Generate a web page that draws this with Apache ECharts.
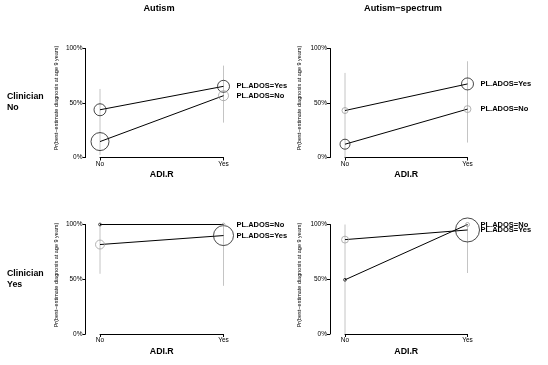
<!DOCTYPE html>
<html>
<head>
<meta charset="utf-8">
<script src="https://cdn.jsdelivr.net/npm/echarts@6/dist/echarts.min.js"></script>
<style>
html,body{margin:0;padding:0;background:#fff;}
#c{width:548px;height:365px;}
</style>
</head>
<body>
<div id="c"></div>
<script>
// ---------- data ----------
const categories = ['No', 'Yes'];            // ADI.R
const colTitles = ['Autism', 'Autism\u2212spectrum'];
const rowTitles = ['Clinician\nNo', 'Clinician\nYes'];
const yTitle = 'Pr(best\u2212estimate diagnosis at age 9 years)';
const yTicks = [0, 50, 100];

// probability (%) of diagnosis at ADI.R = No / Yes
const autismClinNo_adosYes = [43.8, 65.3];
const autismClinNo_adosNo = [14.6, 56.7];
const spectrumClinNo_adosYes = [43.1, 67.5];
const spectrumClinNo_adosNo = [12.2, 44.4];
const autismClinYes_adosYes = [81.7, 89.9];
const autismClinYes_adosNo = [100, 100];
const spectrumClinYes_adosYes = [86.2, 95.0];
const spectrumClinYes_adosNo = [49.5, 100];

// relative group sizes (circle area)
const autismClinNo_adosYes_n = [36, 36];
const autismClinNo_adosNo_n = [81, 25];
const spectrumClinNo_adosYes_n = [9, 36];
const spectrumClinNo_adosNo_n = [25, 12];
const autismClinYes_adosYes_n = [20, 100];
const autismClinYes_adosNo_n = [2, 2];
const spectrumClinYes_adosYes_n = [12, 144];
const spectrumClinYes_adosNo_n = [2, 4];

// dark (1) / light (0) circle
const autismClinNo_adosYes_dark = [1, 1];
const autismClinNo_adosNo_dark = [1, 0];
const spectrumClinNo_adosYes_dark = [0, 1];
const spectrumClinNo_adosNo_dark = [1, 0];
const autismClinYes_adosYes_dark = [0, 1];
const autismClinYes_adosNo_dark = [1, 0];
const spectrumClinYes_adosYes_dark = [0, 1];
const spectrumClinYes_adosNo_dark = [1, 0];

// interval bars (%) at ADI.R = No / Yes
const autismClinNo_low = [2.3, 32.0];
const autismClinNo_high = [62.9, 84.3];
const spectrumClinNo_low = [0, 13.7];
const spectrumClinNo_high = [77.6, 88.3];
const autismClinYes_low = [55.0, 44.0];
const autismClinYes_high = [100, 100];
const spectrumClinYes_low = [0, 55.7];
const spectrumClinYes_high = [100, 100];

// ---------- build ----------
const panels = [
  {col:0,row:0, yes:autismClinNo_adosYes, no:autismClinNo_adosNo, yesN:autismClinNo_adosYes_n, noN:autismClinNo_adosNo_n, yesD:autismClinNo_adosYes_dark, noD:autismClinNo_adosNo_dark, lo:autismClinNo_low, hi:autismClinNo_high},
  {col:1,row:0, yes:spectrumClinNo_adosYes, no:spectrumClinNo_adosNo, yesN:spectrumClinNo_adosYes_n, noN:spectrumClinNo_adosNo_n, yesD:spectrumClinNo_adosYes_dark, noD:spectrumClinNo_adosNo_dark, lo:spectrumClinNo_low, hi:spectrumClinNo_high},
  {col:0,row:1, yes:autismClinYes_adosYes, no:autismClinYes_adosNo, yesN:autismClinYes_adosYes_n, noN:autismClinYes_adosNo_n, yesD:autismClinYes_adosYes_dark, noD:autismClinYes_adosNo_dark, lo:autismClinYes_low, hi:autismClinYes_high},
  {col:1,row:1, yes:spectrumClinYes_adosYes, no:spectrumClinYes_adosNo, yesN:spectrumClinYes_adosYes_n, noN:spectrumClinYes_adosNo_n, yesD:spectrumClinYes_adosYes_dark, noD:spectrumClinYes_adosNo_dark, lo:spectrumClinYes_low, hi:spectrumClinYes_high}
];

const FONT = '"Liberation Sans", Arial, Helvetica, sans-serif';
const gridLeft = [100, 345], gridWidth = [123.5, 122.5];
const gridTop = [48.5, 224.5], gridHeight = [109, 109.5];
const axisX = [85.5, 330];

const grids = [], xAxes = [], yAxes = [], series = [];

panels.forEach((p, i) => {
  grids.push({left: gridLeft[p.col], top: gridTop[p.row], width: gridWidth[p.col], height: gridHeight[p.row], containLabel: false});
  xAxes.push({
    gridIndex: i, type: 'category', data: categories, boundaryGap: false,
    axisLine: {show: true, lineStyle: {color: '#000', width: 1}},
    axisTick: {show: true, length: 3, lineStyle: {color: '#000'}},
    axisLabel: {fontSize: 6.5, color: '#000', margin: 3, fontFamily: FONT},
    name: 'ADI.R', nameLocation: 'middle', nameGap: 13,
    nameTextStyle: {fontSize: 8.8, fontWeight: 'bold', color: '#000', fontFamily: FONT},
    splitLine: {show: false}
  });
  yAxes.push({
    gridIndex: i, type: 'value', min: 0, max: 100, interval: 50,
    offset: gridLeft[p.col] - axisX[p.col],
    axisLine: {show: true, lineStyle: {color: '#000', width: 1}},
    axisTick: {show: true, length: 3, lineStyle: {color: '#000'}},
    axisLabel: {fontSize: 6.5, color: '#000', margin: 3, fontFamily: FONT, formatter: '{value}%'},
    splitLine: {show: false}
  });
  // interval bars
  series.push({
    type: 'custom', xAxisIndex: i, yAxisIndex: i, z: 1, silent: true,
    data: categories.map((c, k) => [k, p.lo[k], p.hi[k]]),
    renderItem: function (params, api) {
      const a = api.coord([api.value(0), api.value(1)]);
      const b = api.coord([api.value(0), api.value(2)]);
      return {type: 'line', shape: {x1: a[0], y1: a[1], x2: b[0], y2: b[1]}, style: {stroke: '#c4c4c4', lineWidth: 1}};
    }
  });
  [['PL.ADOS=Yes', p.yes, p.yesN, p.yesD], ['PL.ADOS=No', p.no, p.noN, p.noD]].forEach(([nm, vals, ns, ds]) => {
    series.push({
      type: 'line', name: nm, xAxisIndex: i, yAxisIndex: i, z: 2, data: vals,
      symbol: 'none', lineStyle: {color: '#000', width: 1},
      endLabel: {show: true, formatter: nm, distance: 13, fontSize: 7.5, fontWeight: 'bold', color: '#000', fontFamily: FONT}
    });
    series.push({
      type: 'scatter', xAxisIndex: i, yAxisIndex: i, z: 3,
      data: vals.map((v, k) => ({
        value: [k, v],
        symbolSize: 2 * Math.sqrt(ns[k]),
        itemStyle: {color: 'rgba(0,0,0,0)', borderColor: ds[k] ? '#1a1a1a' : '#a0a0a0', borderWidth: 1}
      }))
    });
  });
});

const graphics = [];
colTitles.forEach((t, c) => {
  graphics.push({type: 'text', x: [159, 403][c], y: 8,
    style: {text: t, fontSize: 9.2, fontWeight: 'bold', fill: '#000', fontFamily: FONT, align: 'center', verticalAlign: 'middle'}});
});
rowTitles.forEach((t, r) => {
  graphics.push({type: 'text', x: 7, y: [102, 279][r],
    style: {text: t, fontSize: 8.8, fontWeight: 'bold', lineHeight: 11, fill: '#000', fontFamily: FONT, align: 'left', verticalAlign: 'middle'}});
});
panels.forEach(p => {
  graphics.push({type: 'text', x: [56, 299][p.col], y: [98, 275][p.row], rotation: Math.PI / 2,
    style: {text: yTitle, fontSize: 5.5, fill: '#000', fontFamily: FONT, align: 'center', verticalAlign: 'middle'}});
});

const chart = echarts.init(document.getElementById('c'), null, {renderer: 'canvas'});
chart.setOption({
  animation: false,
  backgroundColor: '#fff',
  textStyle: {fontFamily: FONT},
  grid: grids, xAxis: xAxes, yAxis: yAxes, series: series,
  graphic: graphics
});
</script>
</body>
</html>
